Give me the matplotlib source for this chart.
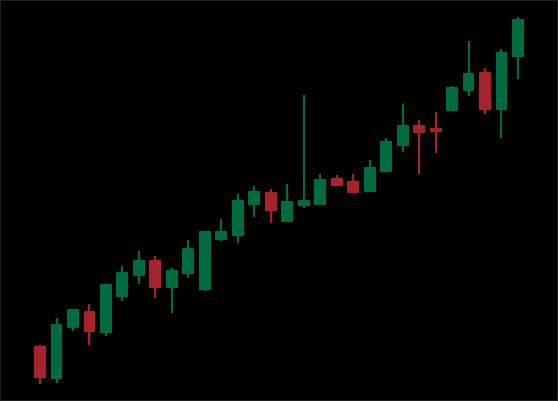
import matplotlib
matplotlib.use("Agg")
import matplotlib.pyplot as plt
import numpy as np

# OHLC values
opens = [76.5, 61, 86.5, 94, 84, 102, 112.5, 119.5, 106.5, 113.5,
         105.5, 130.5, 132.5, 148, 153.5, 139.5, 147.5, 148, 160.5, 159,
         154.5, 164.5, 177.5, 187, 185.5, 195, 205, 213.5, 195.5, 222]
highs = [77.5, 91, 95.5, 98, 108, 117, 124.5, 122, 116, 130,
         134.5, 140.5, 153, 157, 155.5, 158, 202.5, 163, 162.5, 163,
         170, 181, 198, 190, 194, 207, 229.5, 216, 225.5, 241.5]
lows = [58, 58.5, 84.5, 77.5, 82, 99.5, 108, 101, 93.5, 111,
        104.5, 129.5, 128.5, 141.5, 138.5, 139, 146, 147.5, 157, 153.5,
        154, 164, 174, 163, 173.5, 194.5, 202, 193, 181, 210.5]
closes = [61.5, 87.5, 95, 84.5, 107.5, 113.5, 119.5, 106.5, 114.5, 125.5,
          134, 134, 149.5, 154, 145, 149, 149.5, 160, 157.5, 154,
          166, 179, 187, 184, 184.5, 206, 213, 195.5, 223.5, 240]

UP = '#006b3f'
DOWN = '#a4232c'


def draw_candles(ax):
    x = np.arange(len(opens))
    o = np.array(opens)
    c = np.array(closes)
    colors = [UP if cc >= oo else DOWN for oo, cc in zip(o, c)]
    ax.vlines(x, lows, highs, colors=colors, linewidth=1.6, zorder=2)
    bottom = np.minimum(o, c)
    height = np.maximum(np.abs(c - o), 1.0)
    bars = ax.bar(x, height, bottom=bottom, width=0.6, color=colors,
                  edgecolor=colors, linewidth=1.6, zorder=3)
    # slightly rounded body corners like the reference
    for b in bars:
        b.set_joinstyle('round')


fig = plt.figure(figsize=(5.58, 4.01), dpi=100)
fig.patch.set_facecolor('black')
ax = fig.add_axes([0, 0, 1, 1])
ax.set_facecolor('black')

draw_candles(ax)

ax.set_xlim(-2.43, 31.43)
ax.set_ylim(49.5, 250)
ax.set_xticks([])
ax.set_yticks([])
for sp in ax.spines.values():
    sp.set_color('#1e1e1e')
    sp.set_linewidth(1.5)

plt.savefig('out.png', dpi=100, facecolor='black')
